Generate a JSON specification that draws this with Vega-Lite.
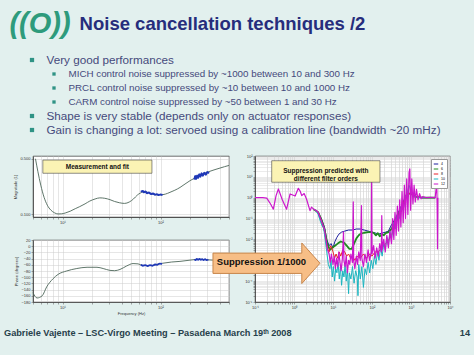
{
 "$schema": "https://vega.github.io/schema/vega-lite/v6.json",
 "background": "#e2f0ee",
 "padding": {"left": 4, "top": 0, "right": 0, "bottom": 0},
 "bounds": "flush",
 "spacing": 0,
 "resolve": {"scale": {"color": "independent"}, "legend": {"color": "independent"}},
 "config": {
  "font": "Liberation Sans",
  "view": {"stroke": null},
  "axis": {"labelFontSize": 4, "labelColor": "#333333", "labelPadding": 1, "tickSize": 2, "tickColor": "#555555", "tickWidth": 0.5, "domainColor": "#333333", "domainWidth": 0.7, "gridColor": "#cccccc", "gridWidth": 0.5, "titleFontSize": 4, "titleFontWeight": "normal", "titleColor": "#333333", "titlePadding": 2, "labelOverlap": false, "labelFlush": false}
 },
 "datasets": {
  "magnitude": [
   {"kind":"fit","seg":"fit","f":5.3,"v":0.5},{"kind":"fit","seg":"fit","f":5.6,"v":0.41},{"kind":"fit","seg":"fit","f":6.0,"v":0.31},{"kind":"fit","seg":"fit","f":6.5,"v":0.22},{"kind":"fit","seg":"fit","f":7.0,"v":0.165},{"kind":"fit","seg":"fit","f":7.6,"v":0.13},{"kind":"fit","seg":"fit","f":8.3,"v":0.11},{"kind":"fit","seg":"fit","f":9.0,"v":0.102},{"kind":"fit","seg":"fit","f":9.8,"v":0.103},{"kind":"fit","seg":"fit","f":10.8,"v":0.11},{"kind":"fit","seg":"fit","f":12,"v":0.122},{"kind":"fit","seg":"fit","f":13.5,"v":0.14},{"kind":"fit","seg":"fit","f":15,"v":0.155},{"kind":"fit","seg":"fit","f":17,"v":0.175},{"kind":"fit","seg":"fit","f":19,"v":0.195},{"kind":"fit","seg":"fit","f":21.5,"v":0.21},{"kind":"fit","seg":"fit","f":24,"v":0.218},{"kind":"fit","seg":"fit","f":27,"v":0.215},{"kind":"fit","seg":"fit","f":30.5,"v":0.205},{"kind":"fit","seg":"fit","f":34,"v":0.192},{"kind":"fit","seg":"fit","f":38,"v":0.183},{"kind":"fit","seg":"fit","f":43,"v":0.178},{"kind":"fit","seg":"fit","f":48,"v":0.188},{"kind":"fit","seg":"fit","f":53,"v":0.21},{"kind":"fit","seg":"fit","f":58,"v":0.238},{"kind":"fit","seg":"fit","f":62,"v":0.252},{"kind":"fit","seg":"fit","f":66,"v":0.26},{"kind":"fit","seg":"fit","f":70,"v":0.262},{"kind":"fit","seg":"fit","f":76,"v":0.255},{"kind":"fit","seg":"fit","f":83,"v":0.246},{"kind":"fit","seg":"fit","f":92,"v":0.24},{"kind":"fit","seg":"fit","f":100,"v":0.24},{"kind":"fit","seg":"fit","f":112,"v":0.245},{"kind":"fit","seg":"fit","f":125,"v":0.258},{"kind":"fit","seg":"fit","f":140,"v":0.273},{"kind":"fit","seg":"fit","f":158,"v":0.293},{"kind":"fit","seg":"fit","f":178,"v":0.318},{"kind":"fit","seg":"fit","f":200,"v":0.342},{"kind":"fit","seg":"fit","f":225,"v":0.362},{"kind":"fit","seg":"fit","f":253,"v":0.38},{"kind":"fit","seg":"fit","f":285,"v":0.397},{"kind":"fit","seg":"fit","f":320,"v":0.41},{"kind":"fit","seg":"fit","f":360,"v":0.422},{"kind":"fit","seg":"fit","f":405,"v":0.433},{"kind":"fit","seg":"fit","f":450,"v":0.443},{"kind":"fit","seg":"fit","f":500,"v":0.452},
   {"kind":"measurement","seg":"m1","f":63,"v":0.262},{"kind":"measurement","seg":"m1","f":66,"v":0.268},{"kind":"measurement","seg":"m1","f":68,"v":0.258},{"kind":"measurement","seg":"m1","f":70,"v":0.264},{"kind":"measurement","seg":"m1","f":73,"v":0.252},{"kind":"measurement","seg":"m1","f":76,"v":0.257},{"kind":"measurement","seg":"m1","f":80,"v":0.246},{"kind":"measurement","seg":"m1","f":84,"v":0.25},{"kind":"measurement","seg":"m1","f":88,"v":0.241},{"kind":"measurement","seg":"m1","f":92,"v":0.245},{"kind":"measurement","seg":"m1","f":96,"v":0.238},{"kind":"measurement","seg":"m1","f":100,"v":0.243},{"kind":"measurement","seg":"m1","f":105,"v":0.239},
   {"kind":"measurement","seg":"m2","f":222,"v":0.35},{"kind":"measurement","seg":"m2","f":226,"v":0.375},{"kind":"measurement","seg":"m2","f":231,"v":0.355},{"kind":"measurement","seg":"m2","f":236,"v":0.38},{"kind":"measurement","seg":"m2","f":242,"v":0.362},{"kind":"measurement","seg":"m2","f":248,"v":0.388},{"kind":"measurement","seg":"m2","f":255,"v":0.37},{"kind":"measurement","seg":"m2","f":262,"v":0.395},{"kind":"measurement","seg":"m2","f":270,"v":0.378},{"kind":"measurement","seg":"m2","f":280,"v":0.4},{"kind":"measurement","seg":"m2","f":290,"v":0.385},{"kind":"measurement","seg":"m2","f":300,"v":0.405},{"kind":"measurement","seg":"m2","f":312,"v":0.395}
  ],
  "phase": [
   {"kind":"fit","seg":"fit","f":5.0,"p":-150},{"kind":"fit","seg":"fit","f":5.5,"p":-167},{"kind":"fit","seg":"fit","f":6.2,"p":-160},{"kind":"fit","seg":"fit","f":6.9,"p":-131},{"kind":"fit","seg":"fit","f":8.0,"p":-105},{"kind":"fit","seg":"fit","f":9.0,"p":-91},{"kind":"fit","seg":"fit","f":11,"p":-80},{"kind":"fit","seg":"fit","f":14,"p":-72},{"kind":"fit","seg":"fit","f":17.8,"p":-68},{"kind":"fit","seg":"fit","f":22.5,"p":-68},{"kind":"fit","seg":"fit","f":26,"p":-72},{"kind":"fit","seg":"fit","f":30.5,"p":-78},{"kind":"fit","seg":"fit","f":34,"p":-79},{"kind":"fit","seg":"fit","f":38.6,"p":-75},{"kind":"fit","seg":"fit","f":45,"p":-64},{"kind":"fit","seg":"fit","f":52.5,"p":-56},{"kind":"fit","seg":"fit","f":59,"p":-57},{"kind":"fit","seg":"fit","f":66,"p":-62},{"kind":"fit","seg":"fit","f":74,"p":-63},{"kind":"fit","seg":"fit","f":83,"p":-62},{"kind":"fit","seg":"fit","f":93,"p":-58},{"kind":"fit","seg":"fit","f":105,"p":-55},{"kind":"fit","seg":"fit","f":130,"p":-51},{"kind":"fit","seg":"fit","f":158,"p":-49},{"kind":"fit","seg":"fit","f":200,"p":-45},{"kind":"fit","seg":"fit","f":253,"p":-42},{"kind":"fit","seg":"fit","f":300,"p":-44},{"kind":"fit","seg":"fit","f":342,"p":-45},{"kind":"fit","seg":"fit","f":400,"p":-45},{"kind":"fit","seg":"fit","f":485,"p":-45},
   {"kind":"measurement","seg":"m1","f":63,"p":-60},{"kind":"measurement","seg":"m1","f":66,"p":-63},{"kind":"measurement","seg":"m1","f":70,"p":-61},{"kind":"measurement","seg":"m1","f":74,"p":-64},{"kind":"measurement","seg":"m1","f":78,"p":-61},{"kind":"measurement","seg":"m1","f":83,"p":-63},{"kind":"measurement","seg":"m1","f":88,"p":-59},{"kind":"measurement","seg":"m1","f":93,"p":-60},{"kind":"measurement","seg":"m1","f":98,"p":-56},{"kind":"measurement","seg":"m1","f":104,"p":-57},
   {"kind":"measurement","seg":"m2","f":222,"p":-42},{"kind":"measurement","seg":"m2","f":228,"p":-45},{"kind":"measurement","seg":"m2","f":235,"p":-41},{"kind":"measurement","seg":"m2","f":242,"p":-44},{"kind":"measurement","seg":"m2","f":250,"p":-41},{"kind":"measurement","seg":"m2","f":258,"p":-44},{"kind":"measurement","seg":"m2","f":266,"p":-42},{"kind":"measurement","seg":"m2","f":275,"p":-45},{"kind":"measurement","seg":"m2","f":285,"p":-42},{"kind":"measurement","seg":"m2","f":295,"p":-45},{"kind":"measurement","seg":"m2","f":308,"p":-43}
  ],
  "magBox": [{"f":6.3,"f2":81.8,"v":0.4907,"v2":0.3954}],
  "magLabel": [{"f":22.7,"v":0.443,"label":"Measurement and fit"}],
  "suppBox": [{"f":0.268,"f2":160,"s":59.6,"s2":5.52}],
  "suppLabel": [{"f":6.55,"s":18.1,"label":"Suppression predicted with\ndifferent filter orders"}],
  "arrow": [{"f":0.197,"s":0.00072,"label":"Suppression 1/1000"}],
  "supp": [
   {"order":"N4","f":3.16,"s":0.282},{"order":"N4","f":4.17,"s":0.2},{"order":"N4","f":5.01,"s":0.1},{"order":"N4","f":6.03,"s":0.0398},{"order":"N4","f":6.92,"s":0.01},{"order":"N4","f":7.94,"s":5.01e-3},{"order":"N4","f":8.91,"s":6.31e-3},{"order":"N4","f":10,"s":3.98e-3},{"order":"N4","f":11.2,"s":7.94e-3},{"order":"N4","f":12.6,"s":0.0126},{"order":"N4","f":14.1,"s":0.0178},{"order":"N4","f":16.6,"s":0.0224},{"order":"N4","f":20,"s":0.0251},{"order":"N4","f":25.1,"s":0.0282},{"order":"N4","f":31.6,"s":0.0282},{"order":"N4","f":39.8,"s":0.0316},{"order":"N4","f":50.1,"s":0.0316},{"order":"N4","f":63.1,"s":0.0282},{"order":"N4","f":79.4,"s":0.0251},{"order":"N4","f":100,"s":0.0224},{"order":"N4","f":126,"s":0.02},{"order":"N4","f":145,"s":0.0178},{"order":"N4","f":178,"s":0.02},{"order":"N4","f":224,"s":0.0224},{"order":"N4","f":263,"s":0.0251},{"order":"N4","f":316,"s":0.0501},{"order":"N4","f":398,"s":0.1},{"order":"N4","f":501,"s":0.251},{"order":"N4","f":631,"s":0.631},{"order":"N4","f":794,"s":1.58},{"order":"N4","f":1000,"s":1.58},{"order":"N4","f":1259,"s":1.12},{"order":"N4","f":1995,"s":1},{"order":"N4","f":4169,"s":1},
   {"order":"N6","f":3.16,"s":0.282},{"order":"N6","f":4.17,"s":0.2},{"order":"N6","f":5.01,"s":0.0891},{"order":"N6","f":6.03,"s":0.0316},{"order":"N6","f":7.08,"s":6.31e-3},{"order":"N6","f":8.32,"s":3.16e-3},{"order":"N6","f":9.55,"s":3.98e-3},{"order":"N6","f":11.2,"s":5.01e-3},{"order":"N6","f":13.2,"s":6.31e-3},{"order":"N6","f":15.8,"s":7.94e-3},{"order":"N6","f":19.1,"s":7.08e-3},{"order":"N6","f":22.4,"s":5.01e-3},{"order":"N6","f":26.3,"s":3.55e-3},{"order":"N6","f":30.2,"s":3.55e-3},{"order":"N6","f":34.7,"s":6.31e-3},{"order":"N6","f":39.8,"s":0.0112},{"order":"N6","f":45.7,"s":0.0158},{"order":"N6","f":52.5,"s":0.0191},{"order":"N6","f":63.1,"s":0.0209},{"order":"N6","f":79.4,"s":0.0224},{"order":"N6","f":97.7,"s":0.0224},{"order":"N6","f":112,"s":0.02},{"order":"N6","f":126,"s":0.0158},{"order":"N6","f":141,"s":0.02},{"order":"N6","f":158,"s":0.0141},{"order":"N6","f":178,"s":0.0178},{"order":"N6","f":200,"s":0.0158},{"order":"N6","f":224,"s":0.02},{"order":"N6","f":263,"s":0.0224},{"order":"N6","f":316,"s":0.0316},{"order":"N6","f":398,"s":0.0794},{"order":"N6","f":501,"s":0.2},{"order":"N6","f":631,"s":0.501},{"order":"N6","f":794,"s":1.58},{"order":"N6","f":1000,"s":1.58},{"order":"N6","f":1259,"s":1.12},{"order":"N6","f":1995,"s":1},{"order":"N6","f":4169,"s":1},
   {"order":"N8","f":3.16,"s":0.282},{"order":"N8","f":4.17,"s":0.2},{"order":"N8","f":5.01,"s":0.0794},{"order":"N8","f":6.03,"s":0.0251},{"order":"N8","f":7.08,"s":3.98e-3},{"order":"N8","f":7.94,"s":2.51e-3},{"order":"N8","f":8.71,"s":5.01e-3},{"order":"N8","f":9.33,"s":3.98e-3},{"order":"N8","f":10,"s":2.51e-3},{"order":"N8","f":11,"s":1.26e-3},{"order":"N8","f":12,"s":2.0e-3},{"order":"N8","f":13.2,"s":1.26e-3},{"order":"N8","f":14.5,"s":2.51e-3},{"order":"N8","f":15.8,"s":1.58e-3},{"order":"N8","f":17.8,"s":3.16e-3},{"order":"N8","f":20,"s":2.51e-3},{"order":"N8","f":22.4,"s":1.58e-3},{"order":"N8","f":25.1,"s":2.0e-3},{"order":"N8","f":28.2,"s":1.26e-3},{"order":"N8","f":31.6,"s":1.58e-3},{"order":"N8","f":36.3,"s":1e-3},{"order":"N8","f":41.7,"s":1.58e-3},{"order":"N8","f":50.1,"s":1.26e-3},{"order":"N8","f":60.3,"s":2.0e-3},{"order":"N8","f":72.4,"s":1.26e-3},{"order":"N8","f":87.1,"s":2.0e-3},{"order":"N8","f":100,"s":1.58e-3},{"order":"N8","f":120,"s":2.51e-3},{"order":"N8","f":145,"s":2.51e-3},{"order":"N8","f":178,"s":3.98e-3},{"order":"N8","f":200,"s":5.01e-3},{"order":"N8","f":251,"s":7.94e-3},{"order":"N8","f":316,"s":0.0158},{"order":"N8","f":398,"s":0.0501},{"order":"N8","f":501,"s":0.158},{"order":"N8","f":631,"s":0.501},{"order":"N8","f":794,"s":1.58},{"order":"N8","f":1000,"s":1.58},{"order":"N8","f":1259,"s":1.12},{"order":"N8","f":1995,"s":1},{"order":"N8","f":4169,"s":1},
   {"order":"N10","f":3.16,"s":0.282},{"order":"N10","f":3.63,"s":0.24},{"order":"N10","f":4.17,"s":0.158},{"order":"N10","f":4.68,"s":0.0794},{"order":"N10","f":5.25,"s":0.0447},{"order":"N10","f":5.75,"s":0.0355},{"order":"N10","f":6.31,"s":0.01},{"order":"N10","f":6.92,"s":2.51e-3},{"order":"N10","f":7.59,"s":6.31e-4},{"order":"N10","f":8.32,"s":3.98e-4},{"order":"N10","f":8.91,"s":1e-3},{"order":"N10","f":9.55,"s":1.58e-4},{"order":"N10","f":10.2,"s":5.01e-4},{"order":"N10","f":11,"s":1e-4},{"order":"N10","f":11.7,"s":3.98e-4},{"order":"N10","f":12.6,"s":2.51e-4},{"order":"N10","f":13.5,"s":7.94e-4},{"order":"N10","f":14.5,"s":1.26e-4},{"order":"N10","f":15.5,"s":5.01e-4},{"order":"N10","f":16.6,"s":6.31e-5},{"order":"N10","f":17.8,"s":3.16e-4},{"order":"N10","f":19.1,"s":1.58e-4},{"order":"N10","f":20.4,"s":6.31e-4},{"order":"N10","f":21.9,"s":1e-4},{"order":"N10","f":23.4,"s":3.98e-4},{"order":"N10","f":25.1,"s":2.51e-5},{"order":"N10","f":26.3,"s":2.51e-4},{"order":"N10","f":28.8,"s":1.26e-4},{"order":"N10","f":31.6,"s":5.01e-4},{"order":"N10","f":34.7,"s":7.94e-5},{"order":"N10","f":38,"s":3.16e-4},{"order":"N10","f":41.7,"s":1.58e-4},{"order":"N10","f":43.7,"s":2.0e-5},{"order":"N10","f":45.7,"s":6.31e-4},{"order":"N10","f":50.1,"s":1.26e-4},{"order":"N10","f":55,"s":5.01e-4},{"order":"N10","f":60.3,"s":5.01e-5},{"order":"N10","f":66.1,"s":3.98e-4},{"order":"N10","f":72.4,"s":2.0e-4},{"order":"N10","f":79.4,"s":7.94e-4},{"order":"N10","f":87.1,"s":2.51e-4},{"order":"N10","f":95.5,"s":1e-3},{"order":"N10","f":105,"s":3.98e-4},{"order":"N10","f":115,"s":1.58e-3},{"order":"N10","f":126,"s":6.31e-4},{"order":"N10","f":138,"s":2.51e-3},{"order":"N10","f":151,"s":1e-3},{"order":"N10","f":166,"s":3.98e-3},{"order":"N10","f":182,"s":1.58e-3},{"order":"N10","f":200,"s":6.31e-3},{"order":"N10","f":219,"s":3.16e-3},{"order":"N10","f":240,"s":0.0126},{"order":"N10","f":263,"s":5.01e-3},{"order":"N10","f":288,"s":0.0251},{"order":"N10","f":316,"s":0.01},{"order":"N10","f":355,"s":0.0631},{"order":"N10","f":398,"s":0.0316},{"order":"N10","f":447,"s":0.158},{"order":"N10","f":501,"s":0.1},{"order":"N10","f":562,"s":0.398},{"order":"N10","f":631,"s":0.251},{"order":"N10","f":708,"s":1},{"order":"N10","f":794,"s":1.58},{"order":"N10","f":891,"s":3.98},{"order":"N10","f":1000,"s":2.0},{"order":"N10","f":1122,"s":1.26},{"order":"N10","f":1259,"s":1.12},{"order":"N10","f":1585,"s":1},{"order":"N10","f":2512,"s":1},{"order":"N10","f":4169,"s":1},
   {"order":"N12","f":0.1,"s":1},{"order":"N12","f":0.158,"s":1},{"order":"N12","f":0.2,"s":0.955},{"order":"N12","f":0.251,"s":0.501},{"order":"N12","f":0.295,"s":0.282},{"order":"N12","f":0.347,"s":1.26},{"order":"N12","f":0.398,"s":2.63},{"order":"N12","f":0.501,"s":0.794},{"order":"N12","f":0.646,"s":0.282},{"order":"N12","f":0.794,"s":1.51},{"order":"N12","f":1.07,"s":1.2},{"order":"N12","f":1.29,"s":2.82},{"order":"N12","f":1.45,"s":2.0},{"order":"N12","f":1.58,"s":1.26},{"order":"N12","f":1.82,"s":1.58},{"order":"N12","f":2.09,"s":0.871},{"order":"N12","f":2.57,"s":0.24},{"order":"N12","f":2.82,"s":0.355},{"order":"N12","f":3.16,"s":0.282},{"order":"N12","f":3.63,"s":0.251},{"order":"N12","f":4.17,"s":0.2},{"order":"N12","f":4.68,"s":0.112},{"order":"N12","f":5.25,"s":0.0631},{"order":"N12","f":6.03,"s":0.0316},{"order":"N12","f":6.61,"s":0.01},{"order":"N12","f":7.24,"s":3.16e-3},{"order":"N12","f":7.94,"s":2.0e-3},{"order":"N12","f":8.51,"s":7.94e-4},{"order":"N12","f":9.12,"s":2.0e-3},{"order":"N12","f":10,"s":6.31e-4},{"order":"N12","f":10.7,"s":1.58e-3},{"order":"N12","f":11.5,"s":3.98e-4},{"order":"N12","f":12.3,"s":1.26e-3},{"order":"N12","f":13.2,"s":5.01e-4},{"order":"N12","f":14.1,"s":2.51e-3},{"order":"N12","f":15.1,"s":7.94e-4},{"order":"N12","f":16.2,"s":3.16e-4},{"order":"N12","f":17.4,"s":1.26e-3},{"order":"N12","f":18.6,"s":0.0229},{"order":"N12","f":19.1,"s":1e-3},{"order":"N12","f":20.4,"s":5.01e-4},{"order":"N12","f":21.9,"s":1.58e-3},{"order":"N12","f":23.4,"s":2.51e-4},{"order":"N12","f":25.1,"s":1e-3},{"order":"N12","f":26.9,"s":6.31e-4},{"order":"N12","f":28.8,"s":2.0e-3},{"order":"N12","f":31.6,"s":7.94e-4},{"order":"N12","f":33.1,"s":0.631},{"order":"N12","f":33.9,"s":1e-3},{"order":"N12","f":36.3,"s":3.98e-4},{"order":"N12","f":39.8,"s":1.58e-3},{"order":"N12","f":42.7,"s":6.31e-4},{"order":"N12","f":45.7,"s":2.51e-3},{"order":"N12","f":50.1,"s":1e-3},{"order":"N12","f":53.7,"s":0.417},{"order":"N12","f":55,"s":1.26e-3},{"order":"N12","f":60.3,"s":5.01e-4},{"order":"N12","f":66.1,"s":2.0e-3},{"order":"N12","f":72.4,"s":7.94e-4},{"order":"N12","f":79.4,"s":3.16e-3},{"order":"N12","f":87.1,"s":1e-3},{"order":"N12","f":95.5,"s":2.51e-3},{"order":"N12","f":97.7,"s":5.5},{"order":"N12","f":100,"s":2.0e-3},{"order":"N12","f":110,"s":5.01e-3},{"order":"N12","f":120,"s":1.26e-3},{"order":"N12","f":132,"s":3.98e-3},{"order":"N12","f":145,"s":1.58e-3},{"order":"N12","f":158,"s":6.31e-3},{"order":"N12","f":174,"s":2.51e-3},{"order":"N12","f":178,"s":0.138},{"order":"N12","f":182,"s":3.16e-3},{"order":"N12","f":200,"s":0.01},{"order":"N12","f":219,"s":2.51e-3},{"order":"N12","f":240,"s":0.0158},{"order":"N12","f":263,"s":3.98e-3},{"order":"N12","f":288,"s":0.0251},{"order":"N12","f":316,"s":6.31e-3},{"order":"N12","f":339,"s":0.1},{"order":"N12","f":363,"s":0.01},{"order":"N12","f":389,"s":0.2},{"order":"N12","f":417,"s":0.0158},{"order":"N12","f":447,"s":0.398},{"order":"N12","f":479,"s":0.0251},{"order":"N12","f":513,"s":0.794},{"order":"N12","f":550,"s":0.0398},{"order":"N12","f":589,"s":2.0},{"order":"N12","f":631,"s":0.0631},{"order":"N12","f":676,"s":3.98},{"order":"N12","f":724,"s":0.1},{"order":"N12","f":776,"s":7.94},{"order":"N12","f":832,"s":0.158},{"order":"N12","f":891,"s":15.8},{"order":"N12","f":933,"s":24},{"order":"N12","f":977,"s":0.251},{"order":"N12","f":1047,"s":7.94},{"order":"N12","f":1122,"s":0.501},{"order":"N12","f":1202,"s":3.98},{"order":"N12","f":1288,"s":0.631},{"order":"N12","f":1380,"s":2.51},{"order":"N12","f":1514,"s":0.794},{"order":"N12","f":1660,"s":1.58},{"order":"N12","f":1820,"s":0.891},{"order":"N12","f":1995,"s":1.12},{"order":"N12","f":2512,"s":1},{"order":"N12","f":3162,"s":1.05},{"order":"N12","f":4169,"s":1},{"order":"N12","f":4571,"s":5.5},{"order":"N12","f":4677,"s":0.501},{"order":"N12","f":4786,"s":3.55e-3},{"order":"N12","f":4898,"s":1}
  ]
 },
 "vconcat": [
  {
   "width": 441, "height": 48,
   "data": {"values": [{"part": "logo", "text": "((O))"}, {"part": "title", "text": "Noise cancellation techniques /2"}]},
   "encoding": {
    "x": {"field": "part", "type": "nominal", "scale": {"range": [7, 189.5], "padding": 0}, "axis": null},
    "text": {"field": "text"}
   },
   "layer": [
    {"transform": [{"filter": "datum.part == 'logo'"}],
     "mark": {"type": "text", "fontSize": 29, "fontWeight": "bold", "fontStyle": "italic", "color": "#2e9b7c", "baseline": "middle"}},
    {"transform": [{"filter": "datum.part == 'title'"}],
     "mark": {"type": "text", "fontSize": 18.5, "fontWeight": "bold", "color": "#262d7c", "baseline": "middle"}}
   ]
  },
  {
   "width": 441, "height": 108,
   "data": {"values": [
    {"line": 1, "level": 1, "text": "Very good performances"},
    {"line": 2, "level": 2, "text": "MICH control noise suppressed by ~1000 between 10 and 300 Hz"},
    {"line": 3, "level": 2, "text": "PRCL control noise suppressed by ~10 between 10 and 1000 Hz"},
    {"line": 4, "level": 2, "text": "CARM control noise suppressed by ~50 between 1 and 30 Hz"},
    {"line": 5, "level": 1, "text": "Shape is very stable (depends only on actuator responses)"},
    {"line": 6, "level": 1, "text": "Gain is changing a lot: servoed using a calibration line (bandwidth ~20 mHz)"}
   ]},
   "encoding": {
    "x": {"field": "level", "type": "ordinal", "scale": {"range": [-1, 21], "padding": 0}, "axis": null},
    "y": {"field": "line", "type": "ordinal", "scale": {"range": [12, 82], "padding": 0}, "axis": null}
   },
   "layer": [
    {"mark": {"type": "point", "shape": "square", "filled": true, "color": "#2f9385", "opacity": 1},
     "encoding": {"size": {"condition": {"test": "datum.level == 1", "value": 18}, "value": 11}}},
    {"mark": {"type": "text", "align": "left", "baseline": "middle", "dx": 14.5, "color": "#454a7c"},
     "encoding": {"text": {"field": "text"}, "size": {"condition": {"test": "datum.level == 1", "value": 11.7}, "value": 9.8}}}
   ]
  },
  {
   "resolve": {"scale": {"color": "independent"}, "legend": {"color": "independent"}},
   "hconcat": [
    {
     "vconcat": [
      {
       "width": 196, "height": 61,
       "view": {"fill": "#ffffff", "stroke": "#333333", "strokeWidth": 0.7},
       "layer": [
        {"data": {"name": "magnitude"},
         "mark": {"type": "line", "interpolate": "monotone"},
         "encoding": {
          "x": {"field": "f", "type": "quantitative", "scale": {"type": "log", "domain": [5, 500]},
                "axis": {"values": [5,6,7,8,9,10,20,30,40,50,60,70,80,90,100,200,300,400,500], "labelExpr": "datum.value == 10 ? '10¹' : datum.value == 100 ? '10²' : ''", "title": null, "grid": true}},
          "y": {"field": "v", "type": "quantitative", "scale": {"domain": [0.08, 0.52]},
                "axis": {"values": [0.1,0.15,0.2,0.25,0.3,0.35,0.4,0.45,0.5], "format": ".3f", "title": "Magnitude (1)", "grid": true}},
          "color": {"field": "kind", "type": "nominal", "scale": {"domain": ["fit", "measurement"], "range": ["#4d6659", "#1f38b8"]}, "legend": null},
          "detail": {"field": "seg"},
          "strokeWidth": {"condition": {"test": "datum.kind == 'measurement'", "value": 2}, "value": 0.9}
         }},
        {"data": {"name": "magBox"},
         "mark": {"type": "rect", "fill": "#fbf3b4", "stroke": "#444444", "strokeWidth": 0.6},
         "encoding": {
          "x": {"field": "f", "type": "quantitative", "scale": {"type": "log", "domain": [5, 500]}},
          "x2": {"field": "f2"},
          "y": {"field": "v", "type": "quantitative", "scale": {"domain": [0.08, 0.52]}},
          "y2": {"field": "v2"}
         }},
        {"data": {"name": "magLabel"},
         "mark": {"type": "text", "fontSize": 6.5, "fontWeight": "bold", "color": "#111111", "baseline": "middle"},
         "encoding": {
          "x": {"field": "f", "type": "quantitative", "scale": {"type": "log", "domain": [5, 500]}},
          "y": {"field": "v", "type": "quantitative", "scale": {"domain": [0.08, 0.52]}},
          "text": {"field": "label"}
         }}
       ]
      },
      {
       "width": 196, "height": 62,
       "view": {"fill": "#ffffff", "stroke": "#333333", "strokeWidth": 0.7},
       "data": {"name": "phase"},
       "mark": {"type": "line", "interpolate": "monotone"},
       "encoding": {
        "x": {"field": "f", "type": "quantitative", "scale": {"type": "log", "domain": [5, 500]},
              "axis": {"values": [5,6,7,8,9,10,20,30,40,50,60,70,80,90,100,200,300,400,500], "labelExpr": "datum.value == 10 ? '10¹' : datum.value == 100 ? '10²' : ''", "title": "Frequency (Hz)", "grid": true}},
        "y": {"field": "p", "type": "quantitative", "scale": {"domain": [-180, 20]},
              "axis": {"values": [-180,-160,-140,-120,-100,-80,-60,-40,-20,0,20], "title": "Phase (degrees)", "grid": true}},
        "color": {"field": "kind", "type": "nominal", "scale": {"domain": ["fit", "measurement"], "range": ["#4d6659", "#1f38b8"]}, "legend": null},
        "detail": {"field": "seg"},
        "strokeWidth": {"condition": {"test": "datum.kind == 'measurement'", "value": 1.8}, "value": 0.9}
       }
      }
     ],
     "spacing": 23, "bounds": "flush"
    },
    {
     "width": 195, "height": 146,
     "view": {"fill": "#ffffff", "stroke": "#333333", "strokeWidth": 0.7},
     "layer": [
      {"data": {"name": "supp"},
       "mark": {"type": "line", "strokeJoin": "round"},
       "encoding": {
        "x": {"field": "f", "type": "quantitative", "scale": {"type": "log", "domain": [0.1, 10000]},
              "axis": {"values": [0.1,0.2,0.3,0.4,0.5,0.6,0.7,0.8,0.9,1,2,3,4,5,6,7,8,9,10,20,30,40,50,60,70,80,90,100,200,300,400,500,600,700,800,900,1000,2000,3000,4000,5000,6000,7000,8000,9000,10000],
                       "labelExpr": "datum.value == 0.1 ? '10⁻¹' : datum.value == 1 ? '10⁰' : datum.value == 10 ? '10¹' : datum.value == 100 ? '10²' : datum.value == 1000 ? '10³' : datum.value == 10000 ? '10⁴' : ''", "title": null, "grid": true, "gridColor": "#c2c2c2"}},
        "y": {"field": "s", "type": "quantitative", "scale": {"type": "log", "domain": [1e-5, 100]},
              "axis": {"values": [1e-5,2e-5,3e-5,4e-5,5e-5,6e-5,7e-5,8e-5,9e-5,1e-4,2e-4,3e-4,4e-4,5e-4,6e-4,7e-4,8e-4,9e-4,0.001,0.002,0.003,0.004,0.005,0.006,0.007,0.008,0.009,0.01,0.02,0.03,0.04,0.05,0.06,0.07,0.08,0.09,0.1,0.2,0.3,0.4,0.5,0.6,0.7,0.8,0.9,1,2,3,4,5,6,7,8,9,10,20,30,40,50,60,70,80,90,100],
                       "labelExpr": "datum.value == 1e-5 ? '10⁻⁵' : datum.value == 1e-4 ? '10⁻⁴' : datum.value == 0.01 ? '10⁻²' : datum.value == 0.1 ? '10⁻¹' : datum.value == 1 ? '10⁰' : datum.value == 10 ? '10¹' : datum.value == 100 ? '10²' : ''", "title": null, "grid": true, "gridColor": "#d6d6d6"}},
        "color": {"field": "order", "type": "nominal", "scale": {"domain": ["N4", "N6", "N8", "N10", "N12"], "range": ["#1c1c9c", "#1f8a1f", "#e8202a", "#1bb5c0", "#cc16cc"]},
                  "legend": {"orient": "top-right", "offset": 3, "title": null, "labelExpr": "replace(datum.label, 'N', '')", "labelFontSize": 3.5, "symbolSize": 20, "symbolStrokeWidth": 1, "rowPadding": 0, "padding": 2, "fillColor": "#ffffff", "strokeColor": "#999999", "labelOffset": 2}},
        "strokeWidth": {"condition": [{"test": "datum.order == 'N6'", "value": 1.8}, {"test": "datum.order == 'N12'", "value": 1.2}], "value": 1}
       }},
      {"data": {"name": "suppBox"},
       "mark": {"type": "rect", "fill": "#fbf3b4", "stroke": "#444444", "strokeWidth": 0.6},
       "encoding": {
        "x": {"field": "f", "type": "quantitative", "scale": {"type": "log", "domain": [0.1, 10000]}},
        "x2": {"field": "f2"},
        "y": {"field": "s", "type": "quantitative", "scale": {"type": "log", "domain": [1e-5, 100]}},
        "y2": {"field": "s2"}
       }},
      {"data": {"name": "suppLabel"},
       "mark": {"type": "text", "fontSize": 6.5, "fontWeight": "bold", "color": "#111111", "baseline": "middle", "lineBreak": "\n", "lineHeight": 7.5},
       "encoding": {
        "x": {"field": "f", "type": "quantitative", "scale": {"type": "log", "domain": [0.1, 10000]}},
        "y": {"field": "s", "type": "quantitative", "scale": {"type": "log", "domain": [1e-5, 100]}},
        "text": {"field": "label"}
       }},
      {"data": {"name": "arrow"},
       "mark": {"type": "point", "shape": "M -1 -0.19 L 0.66 -0.19 L 0.66 -0.38 L 1 0 L 0.66 0.38 L 0.66 0.19 L -1 0.19 Z", "size": 11449, "filled": true, "fill": "#f7be86", "stroke": "#c7864c", "strokeWidth": 1, "opacity": 1},
       "encoding": {
        "x": {"field": "f", "type": "quantitative", "scale": {"type": "log", "domain": [0.1, 10000]}},
        "y": {"field": "s", "type": "quantitative", "scale": {"type": "log", "domain": [1e-5, 100]}}
       }},
      {"data": {"name": "arrow"},
       "mark": {"type": "text", "fontSize": 9.5, "fontWeight": "bold", "color": "#111111", "baseline": "middle", "dx": -5, "dy": -1.5},
       "encoding": {
        "x": {"field": "f", "type": "quantitative", "scale": {"type": "log", "domain": [0.1, 10000]}},
        "y": {"field": "s", "type": "quantitative", "scale": {"type": "log", "domain": [1e-5, 100]}},
        "text": {"field": "label"}
       }}
     ]
    }
   ],
   "spacing": 222, "bounds": "flush"
  },
  {
   "width": 441, "height": 199,
   "data": {"values": [
    {"pos": "left", "text": "Gabriele Vajente – LSC-Virgo Meeting – Pasadena March 19ᵗʰ 2008"},
    {"pos": "right", "text": "14"}
   ]},
   "encoding": {
    "x": {"field": "pos", "type": "nominal", "scale": {"range": [-29, 437], "padding": 0}, "axis": null},
    "text": {"field": "text"}
   },
   "layer": [
    {"transform": [{"filter": "datum.pos == 'left'"}],
     "mark": {"type": "text", "align": "left", "baseline": "top", "dy": 73, "fontSize": 9.2, "fontWeight": "bold", "color": "#27414b"}},
    {"transform": [{"filter": "datum.pos == 'right'"}],
     "mark": {"type": "text", "align": "right", "baseline": "top", "dy": 73, "fontSize": 9.2, "fontWeight": "bold", "color": "#27414b"}}
   ]
  }
 ]
}
